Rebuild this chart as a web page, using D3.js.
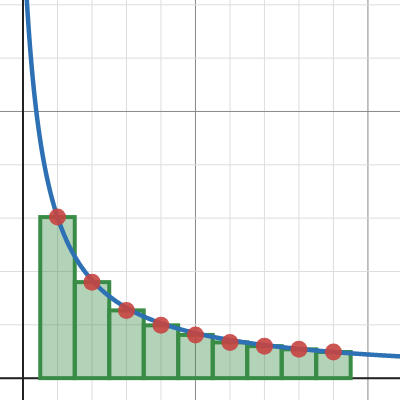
<!DOCTYPE html>
<html><head><meta charset="utf-8">
<script src="https://cdn.jsdelivr.net/npm/d3@7"></script>
<style>body{margin:0;background:#fff}</style></head>
<body><svg id="c" width="400" height="400"></svg>
<script>
// midpoints of the bars and the heights
const midpoints = [1, 2, 3, 4, 5, 6, 7, 8, 9]
const heights = [3.02, 1.8, 1.27, 0.99, 0.81, 0.67, 0.6, 0.54, 0.49]
const barWidth = 1
// curve parameters y = a / (x + b), fitted to the drawn curve
const curveA = 4.68
const curveB = 0.55

const W = 400, H = 400
let svg = d3.select("#c")
let x = d3.scaleLinear().domain([-0.667, 10.93]).range([0, W])
let y = d3.scaleLinear().domain([-0.41, 7.09]).range([H, 0])

// grid
let g = svg.append("g")
for (let i = -1; i <= 11; i++) {
    g.append("line").attr("x1", x(i)).attr("x2", x(i)).attr("y1", 0).attr("y2", H)
        .attr("stroke", i % 5 === 0 ? "#888" : "#ddd").attr("stroke-width", 1)
}
for (let j = -1; j <= 8; j++) {
    g.append("line").attr("y1", y(j)).attr("y2", y(j)).attr("x1", 0).attr("x2", W)
        .attr("stroke", j % 5 === 0 ? "#888" : "#ddd").attr("stroke-width", 1)
}
// axes
svg.append("line").attr("x1", x(0)).attr("x2", x(0)).attr("y1", 0).attr("y2", H)
    .attr("stroke", "#222").attr("stroke-width", 2)
svg.append("line").attr("y1", y(0)).attr("y2", y(0)).attr("x1", 0).attr("x2", W)
    .attr("stroke", "#222").attr("stroke-width", 2)

// bars
svg.selectAll("rect.bar").data(midpoints).join("rect")
    .attr("class", "bar")
    .attr("x", d => x(d - barWidth / 2))
    .attr("width", x(barWidth) - x(0))
    .attr("y", (d, i) => y(heights[i]))
    .attr("height", (d, i) => y(0) - y(heights[i]))
    .attr("fill", "#388c46").attr("fill-opacity", 0.38)
    .attr("stroke", "#388c46").attr("stroke-width", 4)

// curve
let pts = d3.range(-0.5, 11, 0.02).map(v => [v, curveA / (v + curveB)]).filter(p => p[1] < 8)
svg.append("path").datum(pts)
    .attr("d", d3.line().x(d => x(d[0])).y(d => y(d[1])))
    .attr("fill", "none").attr("stroke", "#2d70b3").attr("stroke-width", 4.5)

// points
svg.selectAll("circle").data(midpoints).join("circle")
    .attr("cx", d => x(d)).attr("cy", (d, i) => y(heights[i])).attr("r", 8.5)
    .attr("fill", "#c74440").attr("fill-opacity", 0.9)
</script></body></html>
